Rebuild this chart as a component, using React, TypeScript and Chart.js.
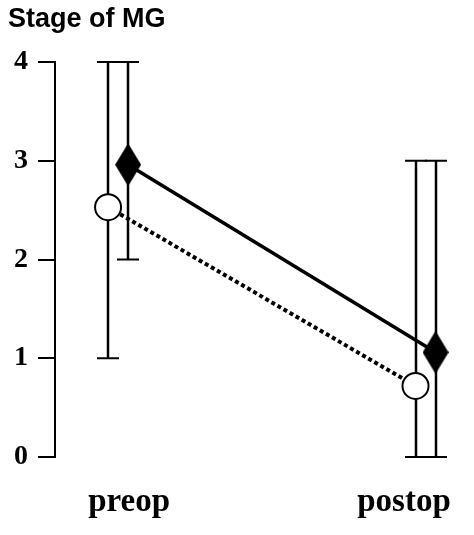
import React, { useEffect, useRef } from "react";
import { Chart, registerables } from "chart.js";

Chart.register(...registerables);

// ---- data ----
const CATEGORIES = ["preop", "postop"];
const CATEGORY_INDEX = [0, 1];
const Y_TICKS = [0, 1, 2, 3, 4];
const TITLE = "Stage of MG";

const DIAMOND_MEANS = [2.96, 1.06];
const DIAMOND_LOW = [2, 0];
const DIAMOND_HIGH = [4, 3];

const CIRCLE_MEANS = [2.53, 0.72];
const CIRCLE_LOW = [1, 0];
const CIRCLE_HIGH = [4, 3];

// ---- style constants ----
const DODGE = 10 / 307; // horizontal offset of the two groups around a category
const LABEL_POS = [0.036, 0.93]; // where the category labels sit on the x scale
const CAP = 11;

const errorBarPlugin = {
  id: "errorBars",
  beforeDatasetsDraw(chart: any) {
    const ctx = chart.ctx;
    const xs = chart.scales.x;
    const ys = chart.scales.y;
    ctx.save();
    ctx.strokeStyle = "#000";
    ctx.lineCap = "butt";
    chart.data.datasets.forEach((ds: any) => {
      ds.data.forEach((p: any, i: number) => {
        const px = Math.round(xs.getPixelForValue(p.x));
        const yl = ys.getPixelForValue(ds.errLow[i]);
        const yh = ys.getPixelForValue(ds.errHigh[i]);
        ctx.lineWidth = 2.5;
        ctx.beginPath();
        ctx.moveTo(px, yl);
        ctx.lineTo(px, yh);
        ctx.stroke();
        ctx.lineWidth = 2;
        ctx.beginPath();
        ctx.moveTo(px - CAP, yl);
        ctx.lineTo(px + CAP, yl);
        ctx.moveTo(px - CAP, yh);
        ctx.lineTo(px + CAP, yh);
        ctx.stroke();
      });
    });
    ctx.restore();
  },
};

function makeDiamond(): HTMLCanvasElement {
  const w = 26;
  const h = 43;
  const c = document.createElement("canvas");
  c.width = w;
  c.height = h;
  const g = c.getContext("2d")!;
  g.fillStyle = "#000";
  g.beginPath();
  g.moveTo(w / 2, 0);
  g.lineTo(w, h / 2);
  g.lineTo(w / 2, h);
  g.lineTo(0, h / 2);
  g.closePath();
  g.fill();
  return c;
}

export default function App() {
  const ref = useRef<HTMLCanvasElement>(null);

  useEffect(() => {
    if (!ref.current) return;
    const diamond = makeDiamond();
    const serif = '"Liberation Serif", "Times New Roman", serif';
    const chart = new Chart(ref.current, {
      type: "line",
      data: {
        datasets: [
          {
            label: "Group A",
            data: CATEGORY_INDEX.map((c, i) => ({ x: c + DODGE, y: DIAMOND_MEANS[i] })),
            errLow: DIAMOND_LOW,
            errHigh: DIAMOND_HIGH,
            borderColor: "#000",
            borderWidth: 3.5,
            pointStyle: diamond,
            pointRadius: 13,
            backgroundColor: "#000",
            order: 1,
          } as any,
          {
            label: "Group B",
            data: CATEGORY_INDEX.map((c, i) => ({ x: c - DODGE, y: CIRCLE_MEANS[i] })),
            errLow: CIRCLE_LOW,
            errHigh: CIRCLE_HIGH,
            borderColor: "#000",
            borderWidth: 4,
            borderDash: [4, 3],
            pointStyle: "circle",
            pointRadius: 13,
            pointBorderWidth: 2,
            pointBackgroundColor: "#fff",
            pointBorderColor: "#000",
            order: 2,
          } as any,
        ],
      },
      options: {
        animation: false,
        responsive: true,
        maintainAspectRatio: false,
        layout: { padding: { left: 8, right: 8, top: 0, bottom: 0 } },
        plugins: {
          legend: { display: false },
          tooltip: { enabled: false },
          title: {
            display: true,
            text: TITLE,
            align: "start",
            color: "#000",
            font: { family: '"Liberation Sans", Arial, sans-serif', size: 27, weight: "bold" },
            padding: { top: 3, bottom: 26.6 },
          },
        },
        scales: {
          x: {
            type: "linear",
            min: -0.2052,
            max: 1.104,
            afterBuildTicks: (s: any) => {
              s.ticks = LABEL_POS.map((v) => ({ value: v }));
            },
            afterFit: (s: any) => {
              s.height = 78;
              s.paddingLeft = 0;
              s.paddingRight = 0;
            },
            ticks: {
              autoSkip: false,
              maxRotation: 0,
              padding: 26,
              color: "#000",
              font: { family: serif, size: 33, weight: "bold" },
              callback: (_v: any, i: number) => CATEGORIES[i],
            },
            grid: { display: false, drawTicks: false },
            border: { display: false },
          },
          y: {
            min: 0,
            max: 4,
            afterBuildTicks: (s: any) => {
              s.ticks = Y_TICKS.map((v) => ({ value: v }));
            },
            afterFit: (s: any) => {
              s.width = 47;
            },
            ticks: {
              padding: 10,
              color: "#000",
              font: { family: serif, size: 28, weight: "bold" },
            },
            grid: {
              drawOnChartArea: false,
              drawTicks: true,
              tickLength: 17,
              color: "#000",
              lineWidth: 2,
            },
            border: { display: true, color: "#000", width: 2 },
          },
        },
      },
      plugins: [errorBarPlugin],
    });
    return () => chart.destroy();
  }, []);

  return (
    <div style={{ position: "absolute", left: 0, top: 0, width: 474, height: 535, background: "#fff" }}>
      <canvas ref={ref} />
    </div>
  );
}
